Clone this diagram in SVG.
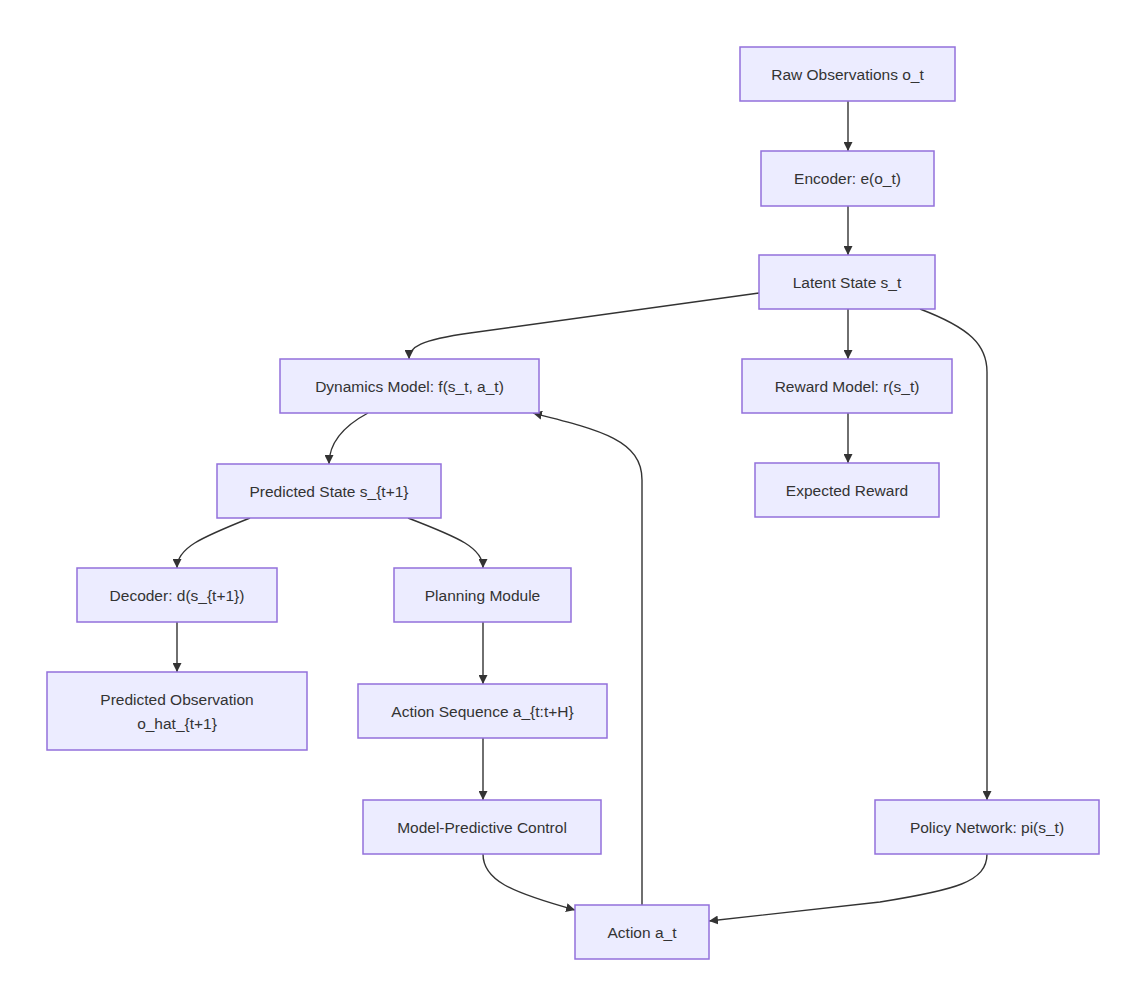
<svg xmlns="http://www.w3.org/2000/svg" width="1148" height="1006" viewBox="0 0 1148 1006">
<defs>
<marker id="arrow" viewBox="0 0 10 10" refX="10" refY="5" markerUnits="userSpaceOnUse" markerWidth="9" markerHeight="9" orient="auto">
<path d="M0,0 L10,5 L0,10 z" fill="#333333"/>
</marker>
<style>
.node rect{fill:#ECECFF;stroke:#9370DB;stroke-width:1.5}
.node text{font-family:"Liberation Sans",Arial,sans-serif;font-size:15.5px;fill:#333333;text-anchor:middle;dominant-baseline:central}
.edges path{fill:none;stroke:#333333;stroke-width:1.4;marker-end:url(#arrow)}
</style>
</defs>
<rect width="1148" height="1006" fill="#ffffff"/>
<g class="edges">
<path d="M848,101 L848,151"/>
<path d="M848,206 L848,255"/>
<path d="M759,293 L470,333 C420,340 409,347 409,359"/>
<path d="M848,309 L848,359"/>
<path d="M920,309 C970,328 987,345 987,372 L987,800"/>
<path d="M368,413 C340,428 329,445 329,464"/>
<path d="M848,413 L848,463"/>
<path d="M250,518 C200,538 177,548 177,568"/>
<path d="M408,518 C460,538 483,548 483,568"/>
<path d="M177,622 L177,672"/>
<path d="M483,622 L483,684"/>
<path d="M483,738 L483,800"/>
<path d="M483,854 C483,880 510,892 575,910"/>
<path d="M987,854 C987,882 955,890 880,902 L709,921"/>
<path d="M642,905 L642,480 C642,440 600,430 533,413"/>
</g>
<g id="raw" class="node"><rect x="740" y="47" width="215" height="54"/><text x="847.5" y="74">Raw Observations o_t</text></g>
<g id="encoder" class="node"><rect x="761" y="151" width="173" height="55"/><text x="847.5" y="178.5">Encoder: e(o_t)</text></g>
<g id="latent" class="node"><rect x="759" y="255" width="176" height="54"/><text x="847" y="282">Latent State s_t</text></g>
<g id="dynamics" class="node"><rect x="280" y="359" width="259" height="54"/><text x="409.5" y="386">Dynamics Model: f(s_t, a_t)</text></g>
<g id="reward" class="node"><rect x="742" y="359" width="210" height="54"/><text x="847" y="386">Reward Model: r(s_t)</text></g>
<g id="expected" class="node"><rect x="755" y="463" width="184" height="54"/><text x="847" y="490">Expected Reward</text></g>
<g id="predstate" class="node"><rect x="217" y="464" width="224" height="54"/><text x="329" y="491">Predicted State s_{t+1}</text></g>
<g id="decoder" class="node"><rect x="77" y="568" width="200" height="54"/><text x="177" y="595">Decoder: d(s_{t+1})</text></g>
<g id="planning" class="node"><rect x="394" y="568" width="177" height="54"/><text x="482.5" y="595">Planning Module</text></g>
<g id="predobs" class="node"><rect x="47" y="672" width="260" height="78"/><text x="177" y="699">Predicted Observation</text><text x="177" y="723">o_hat_{t+1}</text></g>
<g id="actionseq" class="node"><rect x="358" y="684" width="249" height="54"/><text x="482.5" y="711">Action Sequence a_{t:t+H}</text></g>
<g id="mpc" class="node"><rect x="363" y="800" width="238" height="54"/><text x="482" y="827">Model-Predictive Control</text></g>
<g id="policy" class="node"><rect x="875" y="800" width="224" height="54"/><text x="987" y="827">Policy Network: pi(s_t)</text></g>
<g id="action" class="node"><rect x="575" y="905" width="134" height="54"/><text x="642" y="932">Action a_t</text></g>
</svg>
